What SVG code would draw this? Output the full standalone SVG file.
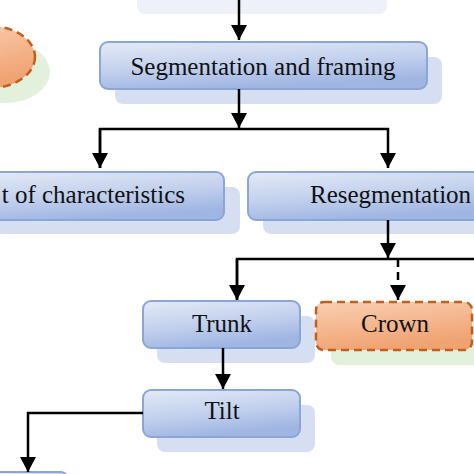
<svg xmlns="http://www.w3.org/2000/svg" width="474" height="474" viewBox="0 0 474 474">
<defs>
<linearGradient id="gBlue" x1="0" y1="0" x2="0.35" y2="1">
<stop offset="0" stop-color="#e4eaf6"/>
<stop offset="0.55" stop-color="#c3d1ee"/>
<stop offset="1" stop-color="#9fb5e2"/>
</linearGradient>
<linearGradient id="gOrange" x1="0" y1="0" x2="0.35" y2="1">
<stop offset="0" stop-color="#f9cfb2"/>
<stop offset="0.55" stop-color="#f5b68e"/>
<stop offset="1" stop-color="#f0a271"/>
</linearGradient>
<marker id="arr" markerUnits="userSpaceOnUse" markerWidth="16" markerHeight="16" viewBox="0 0 16 16" refX="15" refY="8" orient="auto">
<path d="M0,0 L15,8 L0,16 Z" fill="#000"/>
</marker>
<style>
.box{fill:url(#gBlue);stroke:#8ba5d6;stroke-width:2}
.sh{fill:#d6dff1}
.shg{fill:#e3f0db}
.or{fill:url(#gOrange);stroke:#c0601e;stroke-width:2.5;stroke-dasharray:8 5}
.t{font-family:"Liberation Serif","Times New Roman",serif;font-size:25px;fill:#111}
.c{fill:none;stroke:#000;stroke-width:2.5}
</style>
</defs>

<g id="node-top">
<rect x="137" y="-20" width="250" height="34" rx="8" fill="#eef1f8"/>
</g>

<g id="node-ellipse">
<ellipse cx="5" cy="72" rx="45" ry="31" class="shg"/>
<ellipse cx="-10" cy="57" rx="45" ry="31" class="or"/>
</g>

<g id="node-seg">
<rect x="115" y="57" width="327" height="47" rx="8" class="sh"/>
<rect x="100" y="42" width="327" height="47" rx="8" class="box"/>
<text x="263" y="75" text-anchor="middle" class="t">Segmentation and framing</text>
</g>

<g id="node-char">
<rect x="-5" y="187" width="245" height="47" rx="8" class="sh"/>
<rect x="-20" y="172" width="244" height="48" rx="8" class="box"/>
<text x="185" y="203" text-anchor="end" class="t">t of characteristics</text>
</g>

<g id="node-reseg">
<rect x="263" y="187" width="246" height="47" rx="8" class="sh"/>
<rect x="248" y="172" width="246" height="48" rx="8" class="box"/>
<text x="310" y="203" class="t">Resegmentation</text>
</g>

<g id="node-trunk">
<rect x="157" y="316" width="158" height="47" rx="8" class="sh"/>
<rect x="143" y="301" width="157" height="47" rx="8" class="box"/>
<text x="222" y="332" text-anchor="middle" class="t">Trunk</text>
</g>

<g id="node-crown">
<rect x="331" y="317" width="160" height="48" rx="8" class="shg"/>
<rect x="316" y="302" width="156" height="48" rx="8" class="or"/>
<text x="395" y="332" text-anchor="middle" class="t">Crown</text>
</g>

<g id="node-tilt">
<rect x="157" y="405" width="158" height="47" rx="8" class="sh"/>
<rect x="143" y="390" width="157" height="47" rx="8" class="box"/>
<text x="222" y="419" text-anchor="middle" class="t">Tilt</text>
</g>

<g id="node-bottom">
<rect x="-20" y="472" width="87" height="30" rx="6" class="box"/>
</g>

<g id="connectors">
<path class="c" d="M239,0 V40" marker-end="url(#arr)"/>
<path class="c" d="M239,89 V128" marker-end="url(#arr)"/>
<path class="c" d="M100,168 V129 H388 V168" marker-end="url(#arr)"/>
<path class="c" d="M100,129 V168" marker-end="url(#arr)"/>
<path class="c" d="M388,220 V258" marker-end="url(#arr)"/>
<path class="c" d="M237,300 V259 H476"/>
<path class="c" d="M237,259 V300" marker-end="url(#arr)"/>
<path class="c" d="M398,259 V300" stroke-dasharray="8 5" marker-end="url(#arr)"/>
<path class="c" d="M223,348 V389" marker-end="url(#arr)"/>
<path class="c" d="M143,413 H28 V472" marker-end="url(#arr)"/>
</g>
</svg>
